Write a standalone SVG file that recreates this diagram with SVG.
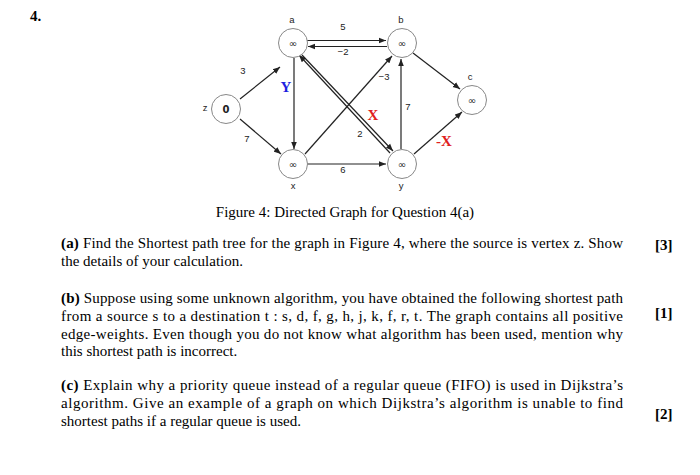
<svg xmlns="http://www.w3.org/2000/svg" width="700" height="475" viewBox="0 0 700 475">
<style>
.n{fill:#fff;stroke:#888;stroke-width:1}
.l{font-family:"Liberation Sans",Arial,sans-serif;font-size:9.5px;fill:#222;text-anchor:middle}
.v{font-family:"DejaVu Sans",sans-serif;font-size:10px;fill:#222;text-anchor:middle}
.e{stroke:#222;stroke-width:1.2;fill:none;marker-end:url(#ar)}
.t{font-family:"Liberation Serif","Times New Roman",serif;font-size:15px;fill:#000}
.b{font-weight:bold}
.bl{fill:#1f1fdf}
.rd{fill:#e02020}
</style>
<defs><marker id="ar" viewBox="0 0 10 10" refX="10" refY="5" markerWidth="6" markerHeight="6" orient="auto"><path d="M0,1 L10,5 L0,9 z" fill="#222"/></marker></defs>
<rect width="700" height="475" fill="#fff"/>
<text class="t b" x="30" y="21" font-size="16">4.</text>
<g id="edges">
<path class="e" d="M240,99 L280,67"/>
<path class="e" d="M240,119 L281,154"/>
<path class="e" d="M307,40.5 L386,40.5"/>
<path class="e" d="M387,46.5 L308,46.5"/>
<path class="e" d="M294,58 L294,149"/>
<path class="e" d="M302,55 L393,151"/>
<path class="e" d="M390,153 L299,55"/>
<path class="e" d="M305,154 L392,56"/>
<path class="e" d="M401,149 L401,59"/>
<path class="e" d="M307,164 L386,164"/>
<path class="e" d="M413,53 L460,89"/>
<path class="e" d="M414,154 L462,112"/>
</g>
<g id="node-a"><circle class="n" cx="293" cy="43" r="14.5"/><text class="v" x="293" y="47">∞</text><text class="l" x="292" y="23">a</text></g>
<g id="node-b"><circle class="n" cx="402" cy="43" r="14.5"/><text class="v" x="402" y="47">∞</text><text class="l" x="401" y="23">b</text></g>
<g id="node-c"><circle class="n" cx="472" cy="100" r="14.5"/><text class="v" x="472" y="104">∞</text><text class="l" x="470" y="80">c</text></g>
<g id="node-z"><circle class="n" cx="226" cy="109" r="14.5"/><text class="v b" x="226" y="113">0</text><text class="l" x="205" y="111">z</text></g>
<g id="node-x"><circle class="n" cx="293" cy="164" r="14.5"/><text class="v" x="293" y="168">∞</text><text class="l" x="293" y="189">x</text></g>
<g id="node-y"><circle class="n" cx="402" cy="164" r="14.5"/><text class="v" x="402" y="168">∞</text><text class="l" x="401" y="189">y</text></g>
<g id="labels">
<text class="l" x="343" y="30">5</text>
<text class="l" x="343" y="55">−2</text>
<text class="l" x="243" y="74">3</text>
<text class="l" x="384" y="80">−3</text>
<text class="l" x="360" y="137">2</text>
<text class="l" x="408" y="110">7</text>
<text class="l" x="247" y="142">7</text>
<text class="l" x="343" y="173">6</text>
<text class="t b bl" x="286" y="92" font-size="10" text-anchor="middle">Y</text>
<text class="t b rd" x="373" y="120" font-size="10" text-anchor="middle">X</text>
<text class="t b rd" x="444" y="146" font-size="10" text-anchor="middle">-X</text>
</g>
<text class="t" x="345" y="217" text-anchor="middle" font-size="15.5">Figure 4: Directed Graph for Question 4(a)</text>
<text class="t" x="61" y="248" textLength="562" lengthAdjust="spacing"><tspan class="b">(a)</tspan> Find the Shortest path tree for the graph in Figure 4, where the source is vertex z. Show</text>
<text class="t" x="61" y="266">the details of your calculation.</text>
<text class="t b" x="655" y="250">[3]</text>
<text class="t" x="61" y="303" textLength="562" lengthAdjust="spacing"><tspan class="b">(b)</tspan> Suppose using some unknown algorithm, you have obtained the following shortest path</text>
<text class="t" x="61" y="321" textLength="562" lengthAdjust="spacing">from a source s to a destination t :  s, d, f, g, h, j, k,  f, r, t. The graph contains all positive</text>
<text class="t" x="61" y="339" textLength="562" lengthAdjust="spacing">edge-weights. Even though you do not know what algorithm has been used, mention why</text>
<text class="t" x="61" y="356">this shortest path is incorrect.</text>
<text class="t b" x="655" y="318">[1]</text>
<text class="t" x="61" y="390" textLength="562" lengthAdjust="spacing"><tspan class="b">(c)</tspan> Explain why a priority queue instead of a regular queue (FIFO) is used in Dijkstra’s</text>
<text class="t" x="61" y="408" textLength="562" lengthAdjust="spacing">algorithm. Give an example of a graph on which Dijkstra’s algorithm is unable to find</text>
<text class="t" x="61" y="426">shortest paths if a regular queue is used.</text>
<text class="t b" x="655" y="419">[2]</text>
</svg>
